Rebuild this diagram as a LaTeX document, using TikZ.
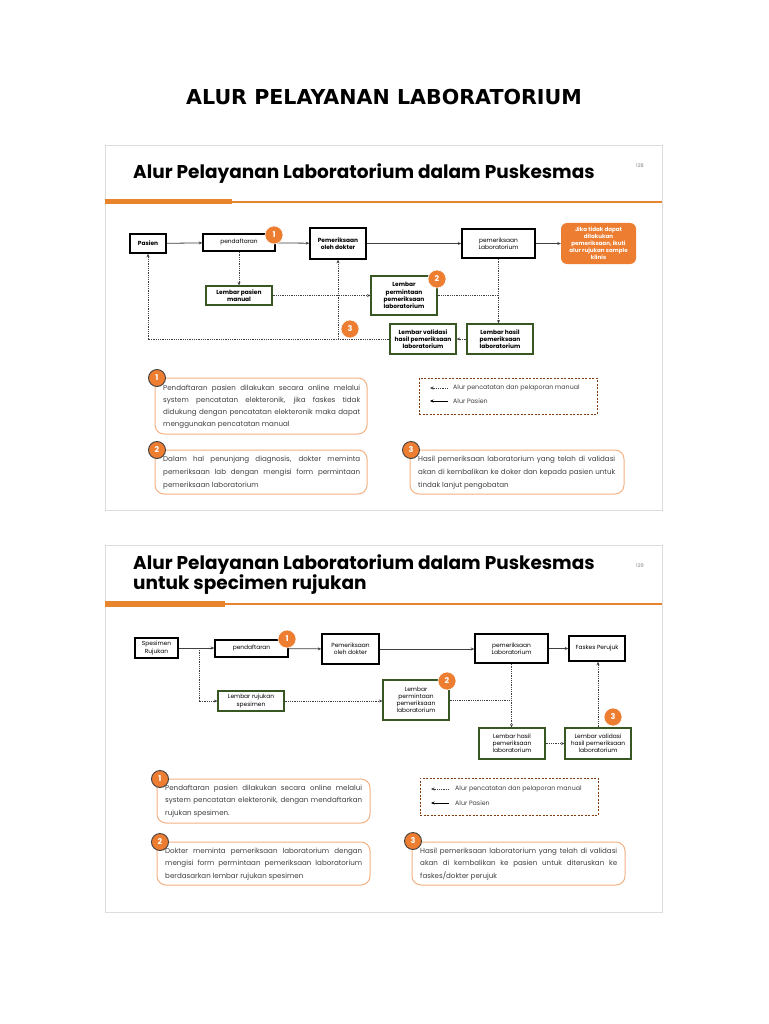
\documentclass[tikz,border=0pt]{standalone}
\usepackage{fontspec}
\setmainfont{Poppins}
\newfontfamily\djv{DejaVu Sans}
\usetikzlibrary{arrows.meta}
\definecolor{orgA}{HTML}{ED7D31}
\definecolor{orgBar}{HTML}{E8852C}
\definecolor{orgLt}{HTML}{F4B183}
\definecolor{grn}{HTML}{385723}
\definecolor{brn}{HTML}{843C0C}
\definecolor{txt}{HTML}{404040}
\definecolor{slideb}{HTML}{DDDDDD}
\newcommand{\jl}[1]{\makebox[197pt][s]{#1}}
\begin{document}
\begin{tikzpicture}[x=1pt,y=-1pt,
  blk/.style={draw=black,line width=1.5pt,fill=white,inner sep=0pt,align=center,text=black,font=\fontsize{5.9}{7.2}\selectfont\bfseries},
  blkr/.style={blk,font=\fontsize{5.9}{7.2}\selectfont},
  grnb/.style={draw=grn,line width=1.2pt,fill=white,inner sep=0pt,align=center,text=black,font=\fontsize{5.9}{7.2}\selectfont\bfseries},
  grnr/.style={grnb,font=\fontsize{5.9}{7.2}\selectfont},
  numd/.style={circle,fill=orgA,draw=white,line width=0.6pt,minimum size=18pt,inner sep=0pt,text=white,font=\fontsize{8}{8}\selectfont\bfseries},
  numt/.style={circle,fill=orgA,draw=txt,line width=0.9pt,minimum size=17pt,inner sep=0pt,text=white,font=\fontsize{8}{8}\selectfont\bfseries},
  tbox/.style={draw=orgLt,line width=1pt,rounded corners=9pt,inner sep=0pt},
  btxt/.style={inner sep=0pt,align=left,anchor=north west,text=txt},
  sol/.style={draw=txt,line width=0.8pt,-{Stealth[length=3.5pt,width=3pt]}},
  solp/.style={draw=txt,line width=0.8pt},
  dotp/.style={draw=txt,line width=0.8pt,dash pattern=on 1pt off 0.8pt},
  dota/.style={dotp,-{Stealth[length=3.5pt,width=3pt]}},
  legb/.style={draw=brn,line width=1pt,dash pattern=on 2pt off 1.5pt,inner sep=0pt},
  legt/.style={anchor=west,inner sep=0pt,text=txt,font=\fontsize{6.3}{6.5}\selectfont},
  slide/.style={draw=slideb,line width=0.6pt},
  stitle/.style={anchor=base west,inner sep=0pt,text=black,font=\fontsize{18.5}{20}\selectfont\bfseries},
  snum/.style={inner sep=0pt,text=gray,font=\fontsize{5}{5}\selectfont}
]
\useasboundingbox (0,0) rectangle (768,1024);
\fill[white] (0,0) rectangle (768,1024);

% main title
\node[anchor=base,inner sep=0pt,font=\djv\bfseries\fontsize{20.6}{21}\selectfont] (maintitle) at (384,105) {ALUR PELAYANAN LABORATORIUM};

% ================= slide 1 =================
\draw[slide] (105,145) rectangle (662,510);
\node[stitle] (st1) at (133,179) {Alur Pelayanan Laboratorium dalam Puskesmas};
\node[snum] (sn1) at (640,166) {128};
\fill[orgBar] (105,199) rectangle (232,204.5);
\draw[orgBar,line width=2pt] (232,202) -- (662,202);

\node[blk,minimum width=36pt,minimum height=19pt] (p1) at (148,243.5) {Pasien};
\node[blkr,minimum width=72pt,minimum height=17pt] (d1) at (239,242.5) {pendaftaran};
\node[blk,minimum width=56pt,minimum height=31pt] (dok1) at (338,243.5) {Pemeriksaan\\oleh dokter};
\node[blkr,minimum width=73pt,minimum height=29pt] (lab1) at (498.5,243.5) {pemeriksaan\\Laboratorium};
\node[fill=orgA,rounded corners=6pt,minimum width=75pt,minimum height=41pt,inner sep=0pt,align=center,text=white,font=\fontsize{5.6}{7}\selectfont\bfseries] (ora) at (598.5,243.5) {Jika tidak dapat\\dilakukan\\pemeriksaan, ikuti\\alur rujukan sample\\klinis};
\node[grnb,minimum width=66pt,minimum height=19pt] (lpm) at (239,295.5) {Lembar pasien\\manual};
\node[grnb,minimum width=66pt,minimum height=39pt] (lper1) at (404,295.5) {Lembar\\permintaan\\pemeriksaan\\laboratorium};
\node[grnb,minimum width=66pt,minimum height=30pt] (lval1) at (423,339) {Lembar validasi\\hasil pemeriksaan\\laboratorium};
\node[grnb,minimum width=66pt,minimum height=30pt] (lhas1) at (500,339) {Lembar hasil\\pemeriksaan\\laboratorium};

\draw[sol] (p1) -- (d1);
\draw[sol] (d1) -- (dok1);
\draw[sol] (dok1) -- (lab1);
\draw[sol] (lab1) -- (ora);
\draw[dota] (d1) -- (lpm);
\draw[dota] (lpm) -- (lper1);
\draw[dotp] (lper1.east) -- (lper1.east -| lab1.south);
\draw[dota] (lab1.south) -- (lab1.south |- lhas1.north);
\draw[dota] (lhas1) -- (lval1);
\draw[dota] (lval1.west) -- (lval1.west -| p1.south) -- (p1.south);
\coordinate (br1) at (dok1.south |- lval1.west);
\draw[dota] (br1) -- (dok1.south);

\node[numd] (c1a) at (274,235) {1};
\node[numd] (c1b) at (437,279) {2};
\node[numd] (c1c) at (350,329) {3};

% legend 1
\node[legb,minimum width=178pt,minimum height=36pt] (leg1) at (508,396) {};
\coordinate (l1a) at (448,388); \coordinate (l1b) at (430,388);
\coordinate (l1c) at (448,401); \coordinate (l1d) at (430,401);
\draw[dota] (l1a) -- (l1b);
\draw[sol,draw=black] (l1c) -- (l1d);
\node[legt] (lt1a) at (453,388) {Alur pencatatan dan pelaporan manual};
\node[legt] (lt1b) at (453,401) {Alur Pasien};

% text boxes slide 1
\node[tbox,minimum width=212pt,minimum height=56pt] (b11) at (261,406) {};
\node[btxt,font=\fontsize{7.1}{12}\selectfont] (t11) at (163,384.5) {\jl{Pendaftaran pasien dilakukan secara online melalui}\\\jl{system pencatatan elekteronik, jika faskes tidak}\\\jl{didukung dengan pencatatan elekteronik maka dapat}\\menggunakan pencatatan manual};
\node[numt] (n11) at (157,378) {1};

\node[tbox,minimum width=212pt,minimum height=44pt] (b12) at (261,472) {};
\node[btxt,font=\fontsize{7.1}{13}\selectfont] (t12) at (163,455.5) {\jl{Dalam hal penunjang diagnosis, dokter meminta}\\\jl{pemeriksaan lab dengan mengisi form permintaan}\\pemeriksaan laboratorium};
\node[numt] (n12) at (157,450) {2};

\node[tbox,minimum width=214pt,minimum height=44pt] (b13) at (517,472) {};
\node[btxt,font=\fontsize{7.1}{13}\selectfont] (t13) at (418,455.5) {\jl{Hasil pemeriksaan laboratorium yang telah di validasi}\\\jl{akan di kembalikan ke doker dan kepada pasien untuk}\\tindak lanjut pengobatan};
\node[numt] (n13) at (411,450) {3};

% ================= slide 2 =================
\draw[slide] (105,545) rectangle (662,912);
\node[stitle] (st2a) at (133,569.5) {Alur Pelayanan Laboratorium dalam Puskesmas};
\node[stitle] (st2b) at (133,589.5) {untuk specimen rujukan};
\node[snum] (sn2) at (640,566) {129};
\fill[orgBar] (105,601) rectangle (225,606.5);
\draw[orgBar,line width=2pt] (225,604) -- (662,604);

\node[blkr,minimum width=43pt,minimum height=20pt] (sp) at (156.5,648) {Spesimen\\Rujukan};
\node[blkr,minimum width=73pt,minimum height=17pt] (d2) at (251.5,648.5) {pendaftaran};
\node[blkr,minimum width=57pt,minimum height=30pt] (dok2) at (350.5,649) {Pemeriksaan\\oleh dokter};
\node[blkr,minimum width=73pt,minimum height=29pt] (lab2) at (511.5,648.5) {pemeriksaan\\Laboratorium};
\node[blkr,minimum width=56pt,minimum height=25pt] (fp) at (597,648.5) {Faskes Perujuk};
\node[grnr,minimum width=66pt,minimum height=20pt] (lrs) at (251,701) {Lembar rujukan\\spesimen};
\node[grnr,minimum width=66pt,minimum height=40pt] (lper2) at (416,700) {Lembar\\permintaan\\pemeriksaan\\laboratorium};
\node[grnr,minimum width=66pt,minimum height=31pt] (lh2) at (512,743.5) {Lembar hasil\\pemeriksaan\\laboratorium};
\node[grnr,minimum width=66pt,minimum height=31pt] (lv2) at (598,743.5) {Lembar validasi\\hasil pemeriksaan\\laboratorium};

\draw[sol] (sp) -- (sp -| d2.west);
\draw[sol] (d2) -- (dok2);
\draw[sol] (dok2) -- (dok2 -| lab2.west);
\draw[sol] (lab2) -- (lab2 -| fp.west);
\coordinate (j2) at (199,648);
\draw[dota] (j2) -- (j2 |- lrs.west) -- (lrs.west);
\draw[dota] (lrs.east) -- (lrs.east -| lper2.west);
\draw[dotp] (lper2.east) -- (lper2.east -| lab2.south);
\draw[dota] (lab2.south) -- (lab2.south |- lh2.north);
\draw[dota] (lh2) -- (lv2);
\draw[dota] (lv2.north) -- (lv2.north |- fp.south);

\node[numd] (c2a) at (287,639) {1};
\node[numd] (c2b) at (447,681) {2};
\node[numd] (c2c) at (613,717) {3};

% legend 2
\node[legb,minimum width=178pt,minimum height=37pt] (leg2) at (509,796.5) {};
\coordinate (l2a) at (449,789); \coordinate (l2b) at (431,789);
\coordinate (l2c) at (449,803); \coordinate (l2d) at (431,803);
\draw[dota] (l2a) -- (l2b);
\draw[sol,draw=black] (l2c) -- (l2d);
\node[legt] (lt2a) at (455,789) {Alur pencatatan dan pelaporan manual};
\node[legt] (lt2b) at (455,803) {Alur Pasien};

% text boxes slide 2
\node[tbox,minimum width=213pt,minimum height=44pt] (b21) at (263.5,801) {};
\node[btxt,font=\fontsize{7.1}{12.8}\selectfont] (t21) at (165,784.5) {\jl{Pendaftaran pasien dilakukan secara online melalui}\\\jl{system pencatatan elekteronik, dengan mendaftarkan}\\rujukan spesimen.};
\node[numt] (n21) at (160,779) {1};

\node[tbox,minimum width=213pt,minimum height=43pt] (b22) at (263.5,863.5) {};
\node[btxt,font=\fontsize{7.1}{12.5}\selectfont] (t22) at (165,847.5) {\jl{Dokter meminta pemeriksaan laboratorium dengan}\\\jl{mengisi form permintaan pemeriksaan laboratorium}\\berdasarkan lembar rujukan spesimen};
\node[numt] (n22) at (160,842) {2};

\node[tbox,minimum width=213pt,minimum height=43pt] (b23) at (518.5,863.5) {};
\node[btxt,font=\fontsize{7.1}{12.5}\selectfont] (t23) at (420,847.5) {\jl{Hasil pemeriksaan laboratorium yang telah di validasi}\\\jl{akan di kembalikan ke pasien untuk diteruskan ke}\\faskes/dokter perujuk};
\node[numt] (n23) at (413,841) {3};
\end{tikzpicture}
\end{document}
